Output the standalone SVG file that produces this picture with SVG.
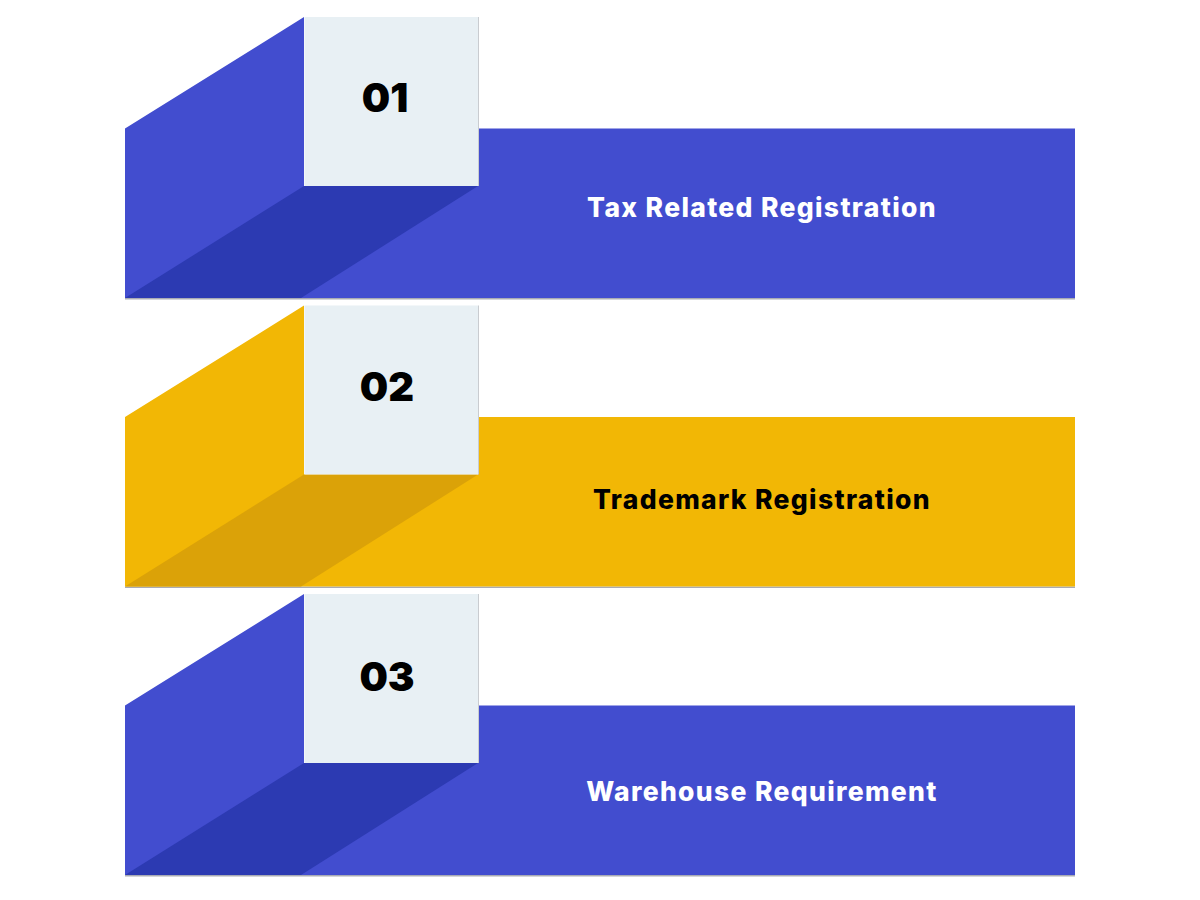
<svg xmlns="http://www.w3.org/2000/svg" width="1200" height="900" viewBox="0 0 1200 900">
<defs>
<style>
.blue{fill:#424dcf}.blued{fill:#2c3ab2}.gold{fill:#f2b705}.goldd{fill:#dba208}
.sq{fill:#e8f0f4}.sh{fill:#c9ccd0}.edge{fill:#a9abb4}
text{font-family:"Inter","Liberation Sans",sans-serif;text-anchor:middle}
.num{font-size:40px;font-weight:900;fill:#000}
.lab{font-size:26.500px;font-weight:800;letter-spacing:1.33px}
</style>
</defs>
<rect width="1200" height="900" fill="#fff"/>
<g id="step-1">
<rect class="edge" x="125" y="298" width="950" height="1.5"/>
<path class="blue" d="M125 128.500L304 17V186H478V128.500H1075V298H125Z"/>
<path class="blued" d="M125 298L304 186H478L301 298Z"/>
<rect class="sh" x="478" y="17" width="1" height="169"/>
<rect class="sq" x="304.500" y="17" width="173.500" height="169"/>
<text class="num" x="385" y="112">01</text>
<text class="lab" x="762" y="217" fill="#fff">Tax Related Registration</text>
</g>
<g id="step-2">
<rect class="edge" x="125" y="586.500" width="950" height="1.5"/>
<path class="gold" d="M125 417L304 305.500V474.500H478V417H1075V586.500H125Z"/>
<path class="goldd" d="M125 586.500L304 474.500H478L301 586.500Z"/>
<rect class="sh" x="478" y="305.500" width="1" height="169"/>
<rect class="sq" x="304.500" y="305.500" width="173.500" height="169"/>
<text class="num" x="387" y="401">02</text>
<text class="lab" x="762" y="509" fill="#000">Trademark Registration</text>
</g>
<g id="step-3">
<rect class="edge" x="125" y="875" width="950" height="1.5"/>
<path class="blue" d="M125 705.500L304 594V763H478V705.500H1075V875H125Z"/>
<path class="blued" d="M125 875L304 763H478L301 875Z"/>
<rect class="sh" x="478" y="594" width="1" height="169"/>
<rect class="sq" x="304.500" y="594" width="173.500" height="169"/>
<text class="num" x="387" y="691">03</text>
<text class="lab" x="762" y="801" fill="#fff">Warehouse Requirement</text>
</g>
<g id="connectors"/>
</svg>
